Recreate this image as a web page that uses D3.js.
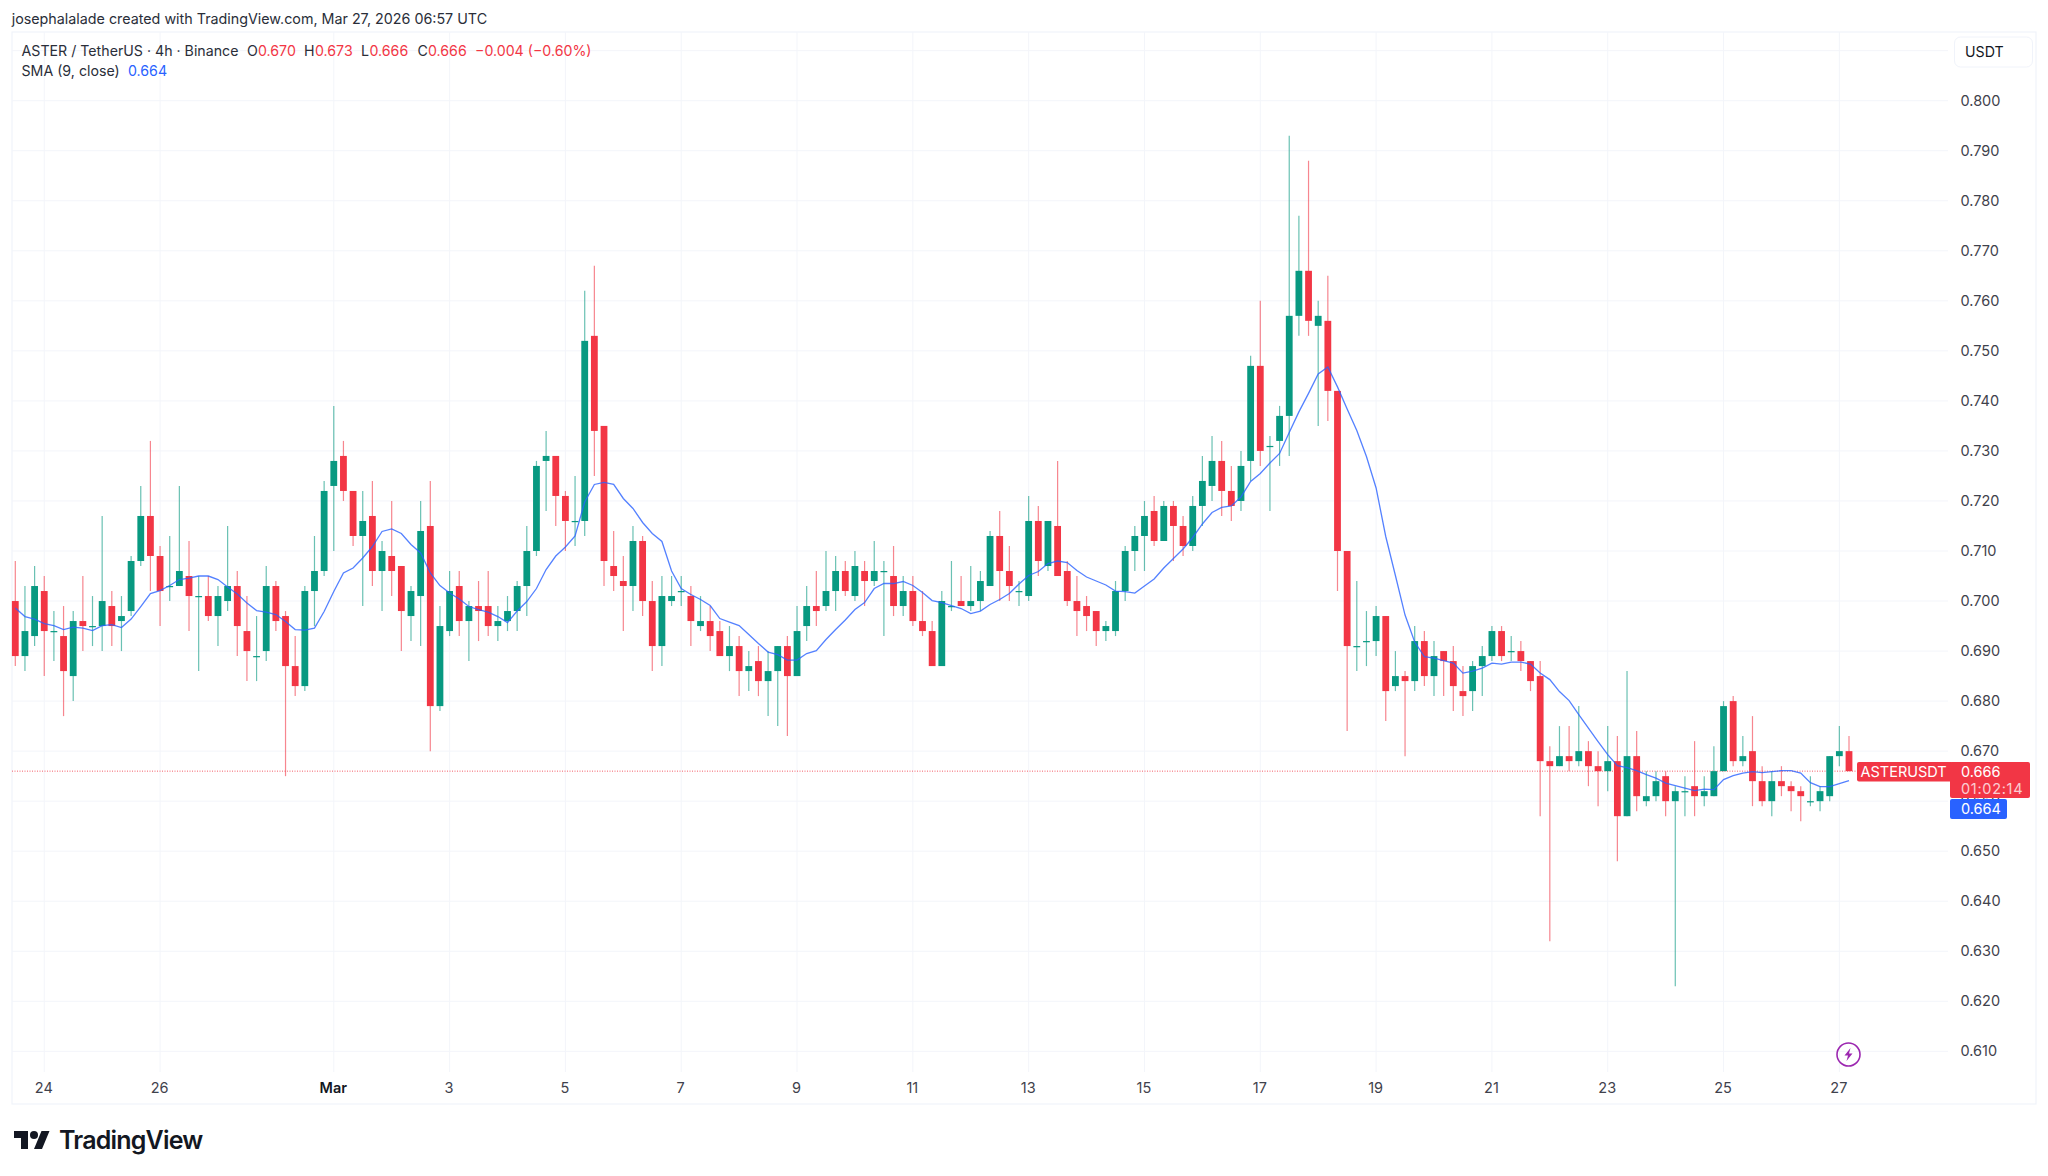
<!DOCTYPE html>
<html>
<head>
<meta charset="utf-8">
<script src="https://cdn.jsdelivr.net/npm/d3@7"></script>
<style>
  html, body { margin: 0; background: #fff; }
  svg { display: block; font-family: Inter, "Noto Sans", sans-serif; }
</style>
</head>
<body>
<svg id="canvas" width="2048" height="1176"></svg>
<script>
// ASTER / USDT 4h candles
let opens = [
  0.700,0.689,0.693,0.702,0.694,0.693,0.685,0.696,0.695,0.695,
  0.699,0.696,0.698,0.708,0.717,0.709,0.703,0.703,0.705,0.701,
  0.701,0.697,0.700,0.703,0.694,0.689,0.690,0.703,0.697,0.687,
  0.683,0.702,0.706,0.723,0.729,0.722,0.713,0.717,0.706,0.709,
  0.707,0.697,0.701,0.715,0.679,0.694,0.703,0.696,0.699,0.699,
  0.695,0.696,0.698,0.703,0.710,0.728,0.729,0.721,0.716,0.716,
  0.753,0.735,0.707,0.704,0.703,0.712,0.700,0.691,0.700,0.702,
  0.701,0.695,0.696,0.694,0.689,0.691,0.686,0.688,0.684,0.686,
  0.691,0.685,0.695,0.699,0.699,0.702,0.706,0.701,0.706,0.704,
  0.706,0.705,0.699,0.702,0.696,0.694,0.687,0.699,0.700,0.699,
  0.700,0.703,0.713,0.706,0.702,0.701,0.716,0.707,0.715,0.706,
  0.700,0.699,0.698,0.694,0.694,0.702,0.710,0.713,0.718,0.712,
  0.719,0.715,0.711,0.719,0.723,0.728,0.722,0.720,0.728,0.747,
  0.731,0.732,0.737,0.757,0.766,0.755,0.756,0.742,0.710,0.691,
  0.692,0.692,0.697,0.683,0.685,0.684,0.692,0.685,0.690,0.688,
  0.682,0.682,0.687,0.689,0.694,0.690,0.690,0.688,0.685,0.668,
  0.667,0.669,0.668,0.670,0.667,0.666,0.668,0.657,0.669,0.660,
  0.661,0.665,0.660,0.662,0.663,0.661,0.661,0.666,0.680,0.668,
  0.670,0.664,0.660,0.664,0.663,0.662,0.660,0.660,0.661,0.669,
  0.670
];
let closes = [
  0.689,0.694,0.703,0.694,0.694,0.686,0.696,0.695,0.695,0.700,
  0.695,0.697,0.708,0.717,0.709,0.702,0.703,0.706,0.701,0.701,
  0.697,0.701,0.703,0.695,0.690,0.689,0.703,0.696,0.687,0.683,
  0.702,0.706,0.722,0.728,0.722,0.713,0.716,0.706,0.710,0.706,
  0.698,0.702,0.714,0.679,0.695,0.702,0.696,0.699,0.698,0.695,
  0.696,0.698,0.703,0.710,0.727,0.729,0.721,0.716,0.716,0.752,
  0.734,0.708,0.705,0.703,0.712,0.700,0.691,0.701,0.701,0.702,
  0.696,0.696,0.693,0.689,0.691,0.686,0.687,0.684,0.686,0.691,
  0.685,0.694,0.699,0.698,0.702,0.706,0.702,0.707,0.704,0.706,
  0.706,0.699,0.702,0.696,0.694,0.687,0.700,0.699,0.699,0.700,
  0.704,0.713,0.706,0.703,0.702,0.716,0.708,0.716,0.705,0.700,
  0.698,0.697,0.694,0.695,0.702,0.710,0.713,0.717,0.712,0.719,
  0.715,0.711,0.719,0.724,0.728,0.722,0.719,0.727,0.747,0.730,
  0.731,0.737,0.757,0.766,0.756,0.757,0.742,0.710,0.691,0.691,
  0.692,0.697,0.682,0.685,0.684,0.692,0.685,0.689,0.688,0.683,
  0.681,0.687,0.689,0.694,0.689,0.690,0.688,0.684,0.668,0.667,
  0.669,0.668,0.670,0.667,0.666,0.668,0.657,0.669,0.661,0.661,
  0.664,0.660,0.662,0.662,0.661,0.662,0.666,0.679,0.668,0.669,
  0.664,0.660,0.664,0.663,0.662,0.661,0.660,0.662,0.669,0.670,
  0.666
];
let highs = [
  0.708,0.703,0.707,0.705,0.698,0.699,0.698,0.705,0.701,0.717,
  0.702,0.701,0.709,0.723,0.732,0.711,0.713,0.723,0.712,0.705,
  0.705,0.703,0.715,0.706,0.701,0.697,0.707,0.704,0.698,0.693,
  0.703,0.713,0.724,0.739,0.732,0.722,0.722,0.724,0.712,0.720,
  0.707,0.703,0.720,0.724,0.699,0.706,0.706,0.700,0.704,0.706,
  0.699,0.701,0.704,0.715,0.728,0.734,0.729,0.722,0.725,0.762,
  0.767,0.735,0.714,0.709,0.715,0.713,0.704,0.705,0.705,0.705,
  0.703,0.701,0.699,0.696,0.695,0.693,0.690,0.691,0.690,0.691,
  0.693,0.699,0.703,0.706,0.710,0.709,0.708,0.710,0.708,0.712,
  0.708,0.711,0.705,0.705,0.702,0.696,0.702,0.708,0.705,0.707,
  0.706,0.714,0.718,0.711,0.704,0.721,0.719,0.716,0.728,0.708,
  0.705,0.701,0.698,0.696,0.704,0.711,0.715,0.720,0.721,0.720,
  0.720,0.717,0.721,0.729,0.733,0.732,0.727,0.730,0.749,0.760,
  0.733,0.739,0.793,0.777,0.788,0.760,0.765,0.742,0.710,0.704,
  0.698,0.699,0.697,0.690,0.686,0.695,0.694,0.692,0.690,0.691,
  0.687,0.688,0.691,0.695,0.695,0.693,0.692,0.688,0.688,0.671,
  0.675,0.675,0.679,0.672,0.670,0.675,0.673,0.686,0.674,0.666,
  0.666,0.666,0.663,0.665,0.672,0.665,0.671,0.680,0.681,0.673,
  0.677,0.667,0.666,0.667,0.664,0.663,0.665,0.663,0.669,0.675,
  0.673
];
let lows = [
  0.687,0.686,0.691,0.685,0.688,0.677,0.680,0.690,0.691,0.690,
  0.691,0.690,0.697,0.707,0.702,0.695,0.700,0.703,0.694,0.686,
  0.696,0.691,0.698,0.689,0.684,0.684,0.688,0.694,0.665,0.681,
  0.682,0.695,0.705,0.710,0.720,0.711,0.699,0.703,0.698,0.701,
  0.690,0.692,0.691,0.670,0.678,0.693,0.693,0.688,0.692,0.693,
  0.692,0.694,0.694,0.697,0.709,0.718,0.715,0.710,0.711,0.713,
  0.725,0.703,0.702,0.694,0.698,0.697,0.686,0.687,0.699,0.699,
  0.691,0.694,0.690,0.689,0.686,0.681,0.682,0.681,0.677,0.675,
  0.673,0.685,0.692,0.695,0.698,0.698,0.701,0.700,0.699,0.703,
  0.693,0.697,0.697,0.695,0.693,0.687,0.687,0.698,0.699,0.698,
  0.698,0.703,0.700,0.700,0.699,0.700,0.705,0.706,0.705,0.699,
  0.693,0.694,0.691,0.692,0.693,0.700,0.706,0.706,0.711,0.712,
  0.708,0.709,0.710,0.715,0.720,0.717,0.716,0.718,0.724,0.727,
  0.718,0.727,0.729,0.753,0.753,0.735,0.736,0.702,0.674,0.686,
  0.687,0.689,0.676,0.682,0.669,0.682,0.683,0.681,0.681,0.678,
  0.677,0.678,0.681,0.688,0.688,0.688,0.686,0.682,0.657,0.632,
  0.667,0.666,0.667,0.663,0.659,0.662,0.648,0.657,0.658,0.659,
  0.660,0.657,0.623,0.657,0.657,0.659,0.661,0.666,0.667,0.667,
  0.659,0.659,0.657,0.661,0.658,0.656,0.659,0.658,0.660,0.667,
  0.666
];
let smaValues = [
  0.6986,0.6969,0.6964,0.6955,0.6951,0.6943,0.6948,0.6946,0.6941,0.6951,
  0.6953,0.6947,0.6964,0.6989,0.7015,0.7021,0.7031,0.7043,0.7046,0.7050,
  0.7050,0.7043,0.7028,0.7014,0.6996,0.6981,0.6978,0.6973,0.6959,0.6943,
  0.6942,0.6946,0.6979,0.7019,0.7056,0.7066,0.7086,0.7109,0.7139,0.7144,
  0.7135,0.7113,0.7096,0.7056,0.7031,0.7016,0.7004,0.6989,0.6983,0.6978,
  0.6969,0.6957,0.6980,0.6999,0.7025,0.7063,0.7090,0.7108,0.7130,0.7198,
  0.7233,0.7237,0.7233,0.7205,0.7185,0.7157,0.7135,0.7119,0.7060,0.7025,
  0.7013,0.7003,0.6991,0.6965,0.6958,0.6951,0.6933,0.6915,0.6898,0.6893,
  0.6882,0.6882,0.6895,0.6901,0.6923,0.6943,0.6962,0.6983,0.6997,0.7025,
  0.7035,0.7035,0.7039,0.7031,0.7017,0.7001,0.6997,0.6991,0.6985,0.6975,
  0.6980,0.6993,0.7003,0.7015,0.7034,0.7051,0.7059,0.7075,0.7080,0.7077,
  0.7061,0.7048,0.7040,0.7032,0.7020,0.7019,0.7016,0.7030,0.7044,0.7066,
  0.7085,0.7104,0.7127,0.7154,0.7177,0.7187,0.7190,0.7208,0.7239,0.7255,
  0.7276,0.7295,0.7337,0.7378,0.7415,0.7454,0.7468,0.7428,0.7384,0.7341,
  0.7289,0.7226,0.7129,0.7051,0.6972,0.6918,0.6889,0.6886,0.6881,0.6876,
  0.6856,0.6860,0.6866,0.6876,0.6874,0.6878,0.6878,0.6874,0.6856,0.6843,
  0.6819,0.6801,0.6773,0.6746,0.6719,0.6693,0.6671,0.6667,0.6661,0.6653,
  0.6646,0.6636,0.6631,0.6626,0.6621,0.6624,0.6623,0.6643,0.6651,0.6656,
  0.6659,0.6657,0.6659,0.6661,0.6661,0.6656,0.6637,0.6629,0.6629,0.6635,
  0.6641
];

let priceTicks = [0.61,0.62,0.63,0.64,0.65,0.66,0.67,0.68,0.69,0.70,0.71,0.72,0.73,0.74,0.75,0.76,0.77,0.78,0.79,0.80];
let gridPrices = priceTicks.concat([0.81]);
// candle index of each date label
let dateIndex = [3,15,33,45,57,69,81,93,105,117,129,141,153,165,177,189];
let dateLabels = ["24","26","Mar","3","5","7","9","11","13","15","17","19","21","23","25","27"];

const GREEN = "#089981";
const RED = "#f23645";
const BLUE = "#2962ff";

let svg = d3.select("#canvas");

let x = d3.scaleLinear().domain([0, 190]).range([15.3, 1849]);
let y = d3.scaleLinear().domain([0.62, 0.80]).range([1001.3, 100.7]);

let candles = d3.range(opens.length);
let candleColor = (i) => (closes[i] >= opens[i] ? GREEN : RED);

// frame
svg.append("rect")
  .attr("x", 12).attr("y", 32).attr("width", 2024).attr("height", 1072)
  .attr("fill", "none").attr("stroke", "#f0f3fa").attr("stroke-width", 1.2);

// grid
svg.append("g").selectAll("line").data(gridPrices).enter().append("line")
  .attr("x1", 12).attr("x2", 1948)
  .attr("y1", (d) => y(d)).attr("y2", (d) => y(d))
  .attr("stroke", "#f3f5fa").attr("stroke-width", 1);

svg.append("g").selectAll("line").data(dateIndex).enter().append("line")
  .attr("x1", (d) => x(d)).attr("x2", (d) => x(d))
  .attr("y1", 32).attr("y2", 1072)
  .attr("stroke", "#f3f5fa").attr("stroke-width", 1);

// last price line
svg.append("line")
  .attr("x1", 12).attr("x2", 1857)
  .attr("y1", y(closes[190])).attr("y2", y(closes[190]))
  .attr("stroke", RED).attr("stroke-width", 1).attr("stroke-dasharray", "1 1.5").attr("opacity", 0.8);

// wicks
svg.append("g").selectAll("line").data(candles).enter().append("line")
  .attr("x1", (i) => x(i)).attr("x2", (i) => x(i))
  .attr("y1", (i) => y(highs[i])).attr("y2", (i) => y(lows[i]))
  .attr("stroke", candleColor).attr("stroke-width", 1.2).attr("opacity", 0.6);

// bodies
svg.append("g").selectAll("rect").data(candles).enter().append("rect")
  .attr("x", (i) => x(i) - 3.4)
  .attr("width", 6.8)
  .attr("y", (i) => y(Math.max(opens[i], closes[i])))
  .attr("height", (i) => Math.max(1.2, Math.abs(y(opens[i]) - y(closes[i]))))
  .attr("fill", candleColor);

// SMA
let smaLine = d3.line().x((d, i) => x(i)).y((d) => y(d));
svg.append("path")
  .attr("d", smaLine(smaValues))
  .attr("fill", "none").attr("stroke", BLUE).attr("stroke-width", 1.3).attr("opacity", 0.8);

// price axis
let yAxis = d3.axisRight(y)
  .tickValues(priceTicks)
  .tickSize(0)
  .tickPadding(0)
  .tickFormat(d3.format(".3f"));
let yAxisG = svg.append("g").attr("transform", "translate(1960.5,0)").call(yAxis);
yAxisG.select(".domain").remove();
yAxisG.selectAll("text").attr("fill", "#3f424c").attr("font-size", 14.5).attr("font-family", "Inter");

// date axis
let xAxis = d3.axisBottom(x)
  .tickValues(dateIndex)
  .tickSize(0)
  .tickPadding(0)
  .tickFormat((d, i) => dateLabels[i]);
let xAxisG = svg.append("g").attr("transform", "translate(-1,1082.3)").call(xAxis);
xAxisG.select(".domain").remove();
xAxisG.selectAll("text")
  .attr("fill", (d, i) => (dateLabels[i] === "Mar" ? "#131722" : "#3f424c"))
  .attr("font-weight", (d, i) => (dateLabels[i] === "Mar" ? 600 : 400))
  .attr("font-size", 14.5).attr("font-family", "Inter");

// header texts
svg.append("text").attr("x", 11.7).attr("y", 24).attr("font-size", 14.3).attr("fill", "#2a2e39")
  .text("josephalalade created with TradingView.com, Mar 27, 2026 06:57 UTC");

let legendRow = [
  [21.5, "ASTER / TetherUS · 4h · Binance", "#2a2e39"],
  [247, "O", "#2a2e39"], [258, "0.670", RED],
  [304, "H", "#2a2e39"], [315, "0.673", RED],
  [361, "L", "#2a2e39"], [369.5, "0.666", RED],
  [417.5, "C", "#2a2e39"], [428, "0.666", RED],
  [475, "−0.004 (−0.60%)", RED]
];
svg.append("g").selectAll("text").data(legendRow).enter().append("text")
  .attr("x", (d) => d[0]).attr("y", 56).attr("font-size", 14.2)
  .attr("fill", (d) => d[2]).text((d) => d[1]);

svg.append("text").attr("x", 21.5).attr("y", 76).attr("font-size", 14.2).attr("fill", "#2a2e39").text("SMA (9, close)");
svg.append("text").attr("x", 128).attr("y", 76).attr("font-size", 14.2).attr("fill", BLUE).text("0.664");

// currency button
svg.append("rect").attr("x", 1954.5).attr("y", 37).attr("width", 78).attr("height", 30).attr("rx", 6)
  .attr("fill", "#fff").attr("stroke", "#f0f3fa");
svg.append("text").attr("x", 1965).attr("y", 57).attr("font-size", 14.2).attr("fill", "#131722").text("USDT");

// price tags
svg.append("rect").attr("x", 1950).attr("y", 799).attr("width", 57).attr("height", 20).attr("rx", 2).attr("fill", BLUE);
svg.append("text").attr("x", 1961).attr("y", 814).attr("font-size", 14.5).attr("fill", "#fff").text("0.664");
svg.append("rect").attr("x", 1857).attr("y", 762).attr("width", 96).attr("height", 19.5).attr("rx", 2).attr("fill", RED);
svg.append("rect").attr("x", 1950).attr("y", 762).attr("width", 80).attr("height", 36).attr("rx", 2).attr("fill", RED);
svg.append("text").attr("x", 1860.5).attr("y", 777).attr("font-size", 14.5).attr("fill", "#fff").text("ASTERUSDT");
svg.append("text").attr("x", 1961).attr("y", 776.5).attr("font-size", 14.5).attr("fill", "#fff").text("0.666");
svg.append("text").attr("x", 1961).attr("y", 793.5).attr("font-size", 14.5).attr("letter-spacing", 0.7)
  .attr("fill", "#fff").attr("opacity", 0.75).text("01:02:14");

// lightning badge
svg.append("circle").attr("cx", 1848.5).attr("cy", 1054.5).attr("r", 11.5)
  .attr("fill", "none").attr("stroke", "#9c27b0").attr("stroke-width", 1.6);
svg.append("path").attr("transform", "translate(1848.5,1054.5)")
  .attr("d", "M2 -6.5 L-4 1 H-0.5 L-2 6.5 L4 -1 H0.5 Z")
  .attr("fill", "#9c27b0");

// logo
let logo = svg.append("g").attr("transform", "translate(14,1127)").attr("fill", "#131722");
logo.append("path").attr("d", "M14 22H7V11H0V4h14v18zM28 22h-8l7.5-18h8L28 22z");
logo.append("circle").attr("cx", 20).attr("cy", 8).attr("r", 4);
svg.append("text").attr("x", 59).attr("y", 1149).attr("font-size", 25).attr("font-weight", 600)
  .attr("fill", "#131722").attr("letter-spacing", -0.8).text("TradingView");
</script>
</body>
</html>
